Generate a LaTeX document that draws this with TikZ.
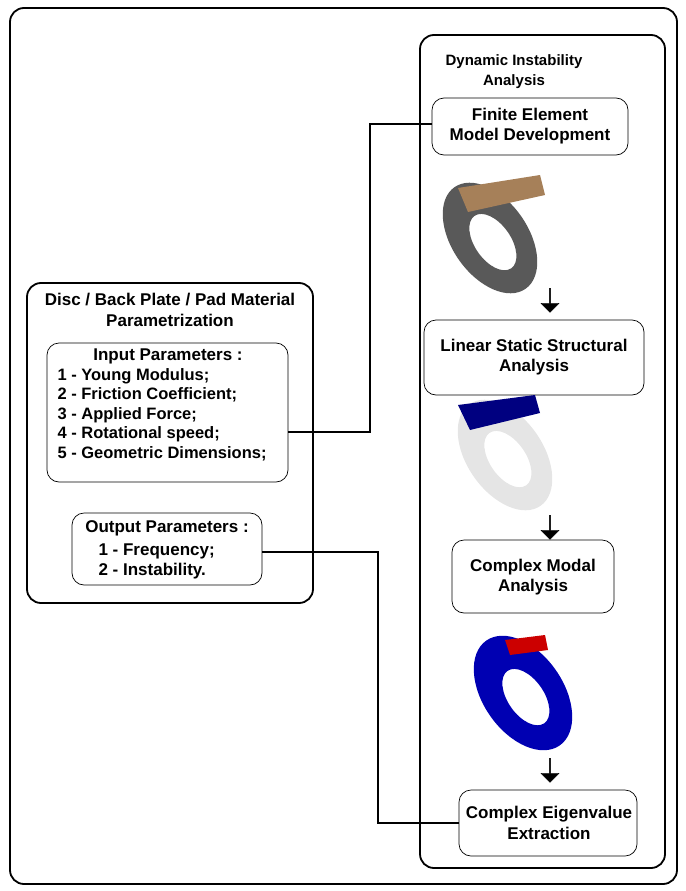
\documentclass[tikz,border=0pt]{standalone}
\usepackage{fontspec}
\setmainfont{Liberation Sans}
\usetikzlibrary{arrows.meta,shapes.arrows}
\begin{document}
\begin{tikzpicture}[x=1pt,y=-1pt,
  frame/.style={draw,line width=1.8pt,rounded corners=14pt},
  pbox/.style={draw,line width=0.7pt,rounded corners=12pt,fill=white},
  txt/.style={font=\fontsize{17}{20.5}\selectfont\bfseries,align=center},
  conn/.style={line width=1.6pt},
  blk/.style={single arrow,fill=black,draw=black,shape border rotate=270,minimum height=24pt,minimum width=18pt,single arrow head extend=3pt,inner sep=0pt}]
\useasboundingbox (0,0) rectangle (685,891);
\draw[frame] (10,8) rectangle (677,884);
\draw[frame] (420,35) rectangle (665,868);
\draw[frame] (27,283) rectangle (313,603);
\node[txt,font=\fontsize{15}{20}\selectfont\bfseries] (t1) at (514,72) {Dynamic Instability\\Analysis};
\node[txt] (t2) at (170,310) {Disc / Back Plate / Pad Material\\Parametrization};
\draw[pbox] (432,98) rectangle (628,155); \coordinate (feL) at (432,124);
\node[txt] (fe) at (530,126) {Finite Element\\Model Development};
\draw[pbox] (424,320) rectangle (644,395);
\node[txt] (ls) at (534,357) {Linear Static Structural\\Analysis};
\draw[pbox] (452,540) rectangle (614,613);
\node[txt] (cm) at (533,577) {Complex Modal\\Analysis};
\draw[pbox] (459,790) rectangle (637,856); \coordinate (ceL) at (459,823);
\node[txt] (ce) at (549,823) {Complex Eigenvalue\\Extraction};
\draw[pbox] (47,343) rectangle (288,482); \coordinate (inR) at (288,432);
\node[txt] (inh) at (168,356) {Input Parameters :};
\node[txt,font=\fontsize{16.5}{19.5}\selectfont\bfseries,align=left,anchor=north west] (inl) at (54,365) {1 - Young Modulus;\\2 - Friction Coefficient;\\3 - Applied Force;\\4 - Rotational speed;\\5 - Geometric Dimensions;};
\draw[pbox] (72,513) rectangle (262,585); \coordinate (outR) at (262,552);
\node[txt] (oh) at (167,528) {Output Parameters :};
\node[txt,align=left,anchor=north west] (ol) at (95,540) {1 - Frequency;\\2 - Instability.};
\draw[conn] (inR) -- (370,432) |- (feL);
\draw[conn] (outR) -- (378,552) |- (ceL);
\node[blk] (a1) at (550,300) {};
\node[blk] (a2) at (550,527) {};
\node[blk] (a3) at (550,770) {};
% rings
\begin{scope}[shift={(490,238)},rotate=-55]
\fill[gray!70!black,even odd rule] (0,0) ellipse (62 and 38) (5,0) ellipse (32 and 18);
\end{scope}
\fill[brown!60!gray] (458,188) -- (540,175) -- (545,195) -- (468,212) -- cycle;
\begin{scope}[shift={(505,455)},rotate=-55]
\fill[gray!20,even odd rule] (0,0) ellipse (62 and 38) (5,0) ellipse (32 and 18);
\end{scope}
\fill[blue!50!black] (458,405) -- (535,395) -- (540,413) -- (470,430) -- cycle;
\begin{scope}[shift={(523,693)},rotate=-55]
\fill[blue!70!black,even odd rule] (0,0) ellipse (64 and 40) (5,0) ellipse (32 and 18);
\end{scope}
\fill[red!80!black] (505,640) -- (545,635) -- (548,650) -- (510,655) -- cycle;
\end{tikzpicture}
\end{document}
